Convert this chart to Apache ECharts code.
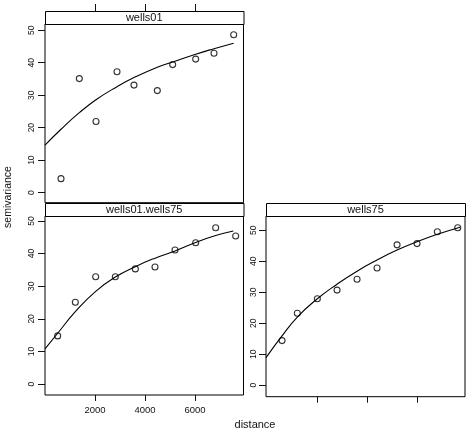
<!DOCTYPE html>
<html>
<head>
<meta charset="utf-8">
<script src="https://cdn.jsdelivr.net/npm/echarts@6/dist/echarts.min.js"></script>
<style>
html,body{margin:0;padding:0;background:#fff}
#chart{width:474px;height:437px}
</style>
</head>
<body>
<div id="chart"></div>
<script>
// panel names (strip labels)
var panels = ['wells01', 'wells01.wells75', 'wells75'];

// sample variogram points, one pair of arrays per panel
var w01Dist = [640, 1373, 2040, 2880, 3560, 4493, 5107, 6027, 6760, 7547];
var w01Semi = [4.3, 35.1, 21.9, 37.2, 33.1, 31.4, 39.4, 41.1, 42.9, 48.6];
var crossDist = [507, 1213, 2027, 2813, 3613, 4400, 5200, 6027, 6827, 7627];
var crossSemi = [14.8, 25.1, 32.9, 32.9, 35.3, 35.9, 41.1, 43.3, 47.9, 45.4];
var w75Dist = [612, 1224, 2024, 2812, 3612, 4412, 5212, 6012, 6824, 7640];
var w75Semi = [14.4, 23.2, 27.9, 30.7, 34.2, 37.8, 45.3, 45.7, 49.5, 50.8];

// fitted model curves
var w01FitDist = [0, 640, 1373, 2040, 2880, 3560, 4493, 5107, 6027, 6760, 7547];
var w01FitSemi = [14.6, 19.5, 24.6, 28.6, 32.6, 35.4, 38.6, 40.2, 42.6, 44.3, 46.0];
var crossFitDist = [0, 507, 1213, 2027, 2813, 3613, 4400, 5200, 6027, 6827, 7533];
var crossFitSemi = [10.8, 15.6, 22.2, 28.4, 32.8, 36.0, 38.6, 40.8, 43.4, 45.5, 46.9];
var w75FitDist = [-30, 612, 1224, 2024, 2812, 3612, 4412, 5212, 6012, 6824, 7732];
var w75FitSemi = [8.9, 15.9, 22.0, 27.9, 32.6, 36.8, 40.4, 43.6, 46.3, 48.7, 51.0];

// axis ticks
var xTicks = [2000, 4000, 6000];
var yTicks = [0, 10, 20, 30, 40, 50];

function zip(a, b) {
    var out = [];
    for (var i = 0; i < a.length; i++) out.push([a[i], b[i]]);
    return out;
}

var font = '"Liberation Sans", Arial, sans-serif';
var ink = '#111';

// panel boxes in px
var boxes = [
    {left: 45, top: 24, width: 198.5, height: 178.7},
    {left: 45, top: 216, width: 198.5, height: 179},
    {left: 266, top: 216, width: 199, height: 180.7}
];
var stripH = 13;
var yRanges = [[-3.1, 51.9], [-3.3, 51.5], [-3.7, 54.6]];
var xRanges = [[0, 7940], [0, 7940], [-30, 7930]];

function yAxisOf(i, labelMargin) {
    return {
        type: 'value', gridIndex: i, position: 'left',
        min: yRanges[i][0], max: yRanges[i][1],
        axisLine: {show: false, onZero: false},
        splitLine: {show: false},
        axisTick: {show: true, length: 7, customValues: yTicks, lineStyle: {color: ink, width: 1}},
        axisLabel: {
            show: true, rotate: 90, customValues: yTicks, margin: labelMargin,
            fontSize: 8.5, color: ink, fontFamily: font
        }
    };
}

function xAxisOf(i, pos, showLabels) {
    return {
        type: 'value', gridIndex: i, position: pos,
        offset: pos === 'top' ? stripH : 0,
        min: xRanges[i][0], max: xRanges[i][1],
        axisLine: {show: false, onZero: false},
        splitLine: {show: false},
        axisTick: {show: true, length: pos === 'top' ? 7 : 6, customValues: xTicks, lineStyle: {color: ink}},
        axisLabel: {
            show: showLabels, customValues: xTicks, margin: 10,
            fontSize: 9.5, color: ink, fontFamily: font,
            formatter: function (v) { return String(v); }
        }
    };
}

var option = {
    animation: false,
    backgroundColor: '#fff',
    grid: boxes.map(function (b) {
        return {left: b.left, top: b.top, width: b.width, height: b.height,
            show: true, borderColor: '#000', borderWidth: 1, backgroundColor: 'transparent'};
    }),
    xAxis: [xAxisOf(0, 'top', false), xAxisOf(1, 'bottom', true), xAxisOf(2, 'bottom', false)],
    yAxis: [yAxisOf(0, 9), yAxisOf(1, 9), yAxisOf(2, 8)],
    series: [],
    graphic: []
};

var pts = [zip(w01Dist, w01Semi), zip(crossDist, crossSemi), zip(w75Dist, w75Semi)];
var fits = [zip(w01FitDist, w01FitSemi), zip(crossFitDist, crossFitSemi), zip(w75FitDist, w75FitSemi)];

for (var i = 0; i < 3; i++) {
    option.series.push({
        type: 'line', xAxisIndex: i, yAxisIndex: i, data: fits[i],
        smooth: 0.5, showSymbol: false, silent: true,
        lineStyle: {color: '#000', width: 1.1}
    });
    option.series.push({
        type: 'scatter', xAxisIndex: i, yAxisIndex: i, data: pts[i],
        symbol: 'circle', symbolSize: 6,
        itemStyle: {color: '#fff', borderColor: '#000', borderWidth: 1.1}
    });
    // strip above each panel
    var b = boxes[i];
    option.graphic.push({
        type: 'rect', left: b.left, top: b.top - stripH,
        shape: {width: b.width, height: stripH},
        style: {fill: '#fff', stroke: '#000', lineWidth: 1}
    });
    option.graphic.push({
        type: 'text', x: b.left + b.width / 2, y: b.top - stripH / 2,
        style: {text: panels[i], fill: ink, font: '11px ' + font, textAlign: 'center', textVerticalAlign: 'middle'}
    });
}

// axis titles
option.graphic.push({
    type: 'text', x: 255, y: 425,
    style: {text: 'distance', fill: ink, font: '11px ' + font, textAlign: 'center', textVerticalAlign: 'middle'}
});
option.graphic.push({
    type: 'text', x: 8, y: 197, rotation: Math.PI / 2,
    style: {text: 'semivariance', fill: ink, font: '10.5px ' + font, textAlign: 'center', textVerticalAlign: 'middle'}
});

var chart = echarts.init(document.getElementById('chart'), null, {renderer: 'canvas'});
chart.setOption(option);
</script>
</body>
</html>
